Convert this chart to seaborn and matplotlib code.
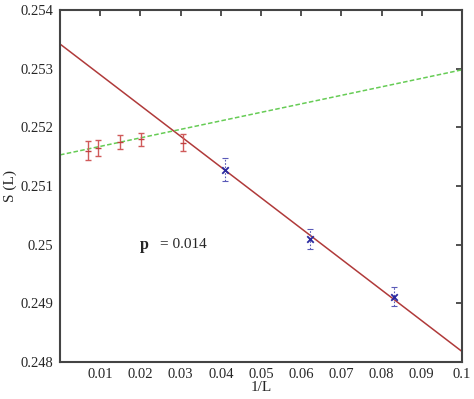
import numpy as np
import pandas as pd
import matplotlib
matplotlib.use("Agg")
import matplotlib.pyplot as plt
import seaborn as sns


# small-L points (red) and large-L points (blue)
x_small = [0.0069, 0.0094, 0.0149, 0.0201, 0.0307]
s_small = [0.25160, 0.25165, 0.25175, 0.25180, 0.25174]
err_small = [0.000165, 0.00014, 0.00012, 0.00011, 0.00015]

x_large = [0.0411, 0.0622, 0.0832]
s_large = [0.25128, 0.25010, 0.24911]
err_large = [0.00019, 0.000175, 0.00016]

# fitted lines, read at the two ends of the axis
fit_x = [0.0, 0.1]
fit_red = [0.25342, 0.24818]
fit_green = [0.25153, 0.25298]

xticks = [0.01, 0.02, 0.03, 0.04, 0.05, 0.06, 0.07, 0.08, 0.09, 0.1]
xtick_labels = ["0.01", "0.02", "0.03", "0.04", "0.05", "0.06", "0.07", "0.08", "0.09", "0.1"]
yticks = [0.248, 0.249, 0.250, 0.251, 0.252, 0.253, 0.254]
ytick_labels = ["0.248", "0.249", "0.25", "0.251", "0.252", "0.253", "0.254"]

sns.set_style("white")
plt.rcParams["font.family"] = ["Liberation Serif", "DejaVu Serif"]

fig = plt.figure(figsize=(4.74, 3.99), dpi=100)
ax = fig.add_axes([0.1266, 0.0927, 0.848, 0.8823])

fits = pd.DataFrame({"x": fit_x, "red": fit_red, "green": fit_green})
sns.lineplot(data=fits, x="x", y="red", ax=ax, color="#b03a3a", linewidth=1.1)
sns.lineplot(data=fits, x="x", y="green", ax=ax, color="#66cc55", linewidth=1.1, linestyle=(0, (3, 1.5)))

ax.errorbar(x_small, s_small, yerr=err_small, fmt="none", ecolor="#d05a5a",
            elinewidth=1.0, capsize=2.5, capthick=1.0)
ax.plot(x_small, s_small, linestyle="none", marker="_", color="#c04040", markersize=4)

eb = ax.errorbar(x_large, s_large, yerr=err_large, fmt="none", ecolor="#5a5ab8",
                 elinewidth=0.8, capsize=2, capthick=0.8)
eb[-1][0].set_linestyle((0, (1.5, 1.5)))
sns.scatterplot(x=x_large, y=s_large, ax=ax, marker="x", color="#2a2aa0",
                s=22, linewidth=1.3, zorder=5)

ax.text(0.0198, 0.24999, "p", fontsize=11.5, fontweight="bold", ha="left", va="center")
ax.text(0.0248, 0.25001, "= 0.014", fontsize=11, ha="left", va="center")

ax.set_xlim(0, 0.1)
ax.set_ylim(0.248, 0.254)
ax.set_xticks(xticks)
ax.set_xticklabels(xtick_labels)
ax.set_yticks(yticks)
ax.set_yticklabels(ytick_labels)
ax.tick_params(direction="in", length=4, width=1.2, top=True, right=True,
               labelsize=10.5, color="#333333", pad=5)
ax.tick_params(axis="x", pad=4)
for sp in ax.spines.values():
    sp.set_color("#444444")
    sp.set_linewidth(1.5)

ax.set_xlabel("1/L", fontsize=11, labelpad=0)
ax.set_ylabel("S (L)", fontsize=11, labelpad=2)

fig.savefig("out.png", dpi=100)
